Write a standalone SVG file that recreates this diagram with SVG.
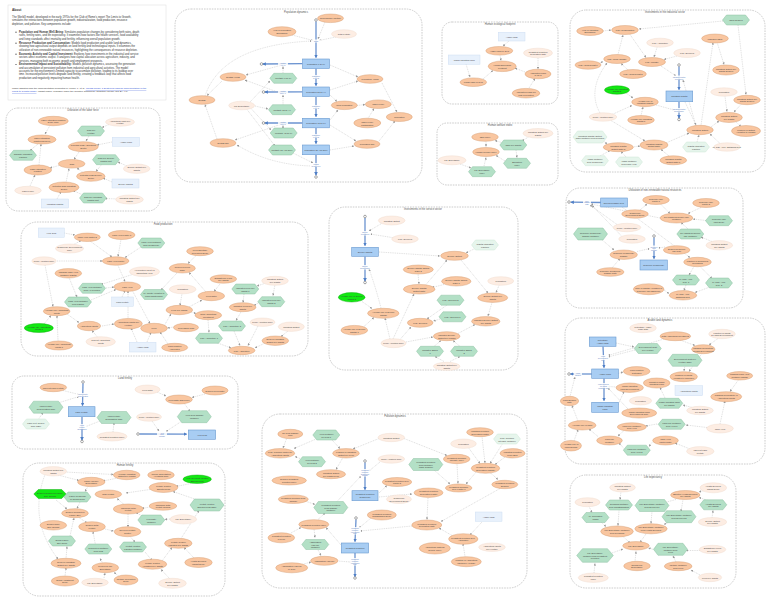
<svg xmlns="http://www.w3.org/2000/svg" width="770" height="600" viewBox="0 0 770 600">
<defs>
<style>
text{font-family:"Liberation Sans",Arial,sans-serif;font-size:2.2px;fill:#3d3d3d;text-anchor:middle;dominant-baseline:central}
.pn{fill:none;stroke:#c6c6c6;stroke-width:0.9;stroke-dasharray:1.6 1}
.pt{font-size:2.6px;fill:#555}
.a{fill:#f9c6a0;stroke:#d49d73;stroke-width:0.45}
.c{fill:#fdede3;stroke:#f0dccd;stroke-width:0.45}
.s{fill:#a8cdf3;stroke:#6a9ad0;stroke-width:0.6}
.r{fill:#e8f1fc;stroke:#cbdcf1;stroke-width:0.45}
.h{fill:#b3e0c6;stroke:#86bb9d;stroke-width:0.45}
.hl{fill:#e6f5ec;stroke:#cbe6d5;stroke-width:0.45}
.g{fill:#12e812;stroke:#0aa80a;stroke-width:0.45}
.l{fill:none;stroke:#bcbcbc;stroke-width:0.5;stroke-dasharray:1 0.8;marker-end:url(#ar)}
.f{fill:none;stroke:#6b93d0;stroke-width:1.3;marker-end:url(#af)}
.v{font-size:1.7px;fill:#5a7dbd}
.vb{fill:#fff;opacity:0.85}
.cl{fill:#fff;stroke:#444;stroke-width:0.45}
.ab{font-size:2.7px;text-anchor:start;fill:#333;dominant-baseline:auto}
.ab tspan.b{font-weight:bold}
</style>
<marker id="ar" viewBox="0 0 10 10" refX="9" refY="5" markerWidth="2.4" markerHeight="2.4" markerUnits="userSpaceOnUse" orient="auto"><path d="M0,0L10,5L0,10z" fill="#9a9a9a"/></marker>
<marker id="af" viewBox="0 0 10 10" refX="8" refY="5" markerWidth="3.6" markerHeight="3.6" markerUnits="userSpaceOnUse" orient="auto"><path d="M0,0L10,5L0,10z" fill="#4f7fc6"/></marker>
<polygon id="hx" points="-13.5,0 -9.5,-5 9.5,-5 13.5,0 9.5,5 -9.5,5"/>
<polygon id="hw" points="-17,0 -12.5,-6 12.5,-6 17,0 12.5,6 -12.5,6"/>
</defs>
<rect width="770" height="600" fill="#fff"/>

<!-- About -->
<g id="about">
<rect x="8" y="5" width="158" height="95" fill="#fff" stroke="#dcdcdc" stroke-width="0.5"/>
<text class="ab" x="12" y="11" style="font-size:3.2px;font-weight:bold">About</text>
<text class="ab" x="12" y="18">The World3 model, developed in the early 1970s for the Club of Rome's report The Limits to Growth,</text>
<text class="ab" x="12" y="21.3">simulates the interactions between population growth, industrialization, food production, resource</text>
<text class="ab" x="12" y="24.6">depletion, and pollution. Key components include:</text>
<circle cx="16" cy="32.2" r="0.6" fill="#333"/>
<text class="ab" x="19" y="33"><tspan class="b">Population and Human Well-Being:</tspan> Simulates population changes by considering birth rates, death</text>
<text class="ab" x="19" y="36.3">rates, fertility rates, and life expectancy. It examines how factors like health services, food availability</text>
<text class="ab" x="19" y="39.6">and living standards affect mortality and fertility, influencing overall population growth.</text>
<circle cx="16" cy="43.2" r="0.6" fill="#333"/>
<text class="ab" x="19" y="44"><tspan class="b">Resource Production and Consumption:</tspan> Models food production and arable land dynamics,</text>
<text class="ab" x="19" y="47.3">showing how agricultural output depends on land fertility and technological inputs. It examines the</text>
<text class="ab" x="19" y="50.6">utilization of non-renewable natural resources, highlighting the consequences of resource depletion.</text>
<circle cx="16" cy="54.2" r="0.6" fill="#333"/>
<text class="ab" x="19" y="55"><tspan class="b">Economic Activity and Capital Investment:</tspan> Explores how investments in the industrial and service</text>
<text class="ab" x="19" y="58.3">sectors affect economic output. It analyzes how capital allocation across agriculture, industry, and</text>
<text class="ab" x="19" y="61.6">services, managing both economic growth and employment prospects.</text>
<circle cx="16" cy="64.5" r="0.6" fill="#333"/>
<text class="ab" x="19" y="65.3"><tspan class="b">Environmental Impact and Sustainability:</tspan> Models pollution dynamics, assessing the generation</text>
<text class="ab" x="19" y="68.6">and accumulation of persistent pollution from industrial and agricultural activities. The model</text>
<text class="ab" x="19" y="71.9">accounts for the environment's limited capacity to assimilate pollution, leading to its buildup over</text>
<text class="ab" x="19" y="75.2">time. Increased pollution levels degrade land fertility, creating a feedback loop that affects food</text>
<text class="ab" x="19" y="78.5">production and negatively impacting human health.</text>
<text class="ab" x="12" y="89" style="font-size:2.4px">Model adapted from the implementation presented in: Lopez, L. et al. <tspan fill="#2a4fd6" text-decoration="underline">World3 model: a System Dynamics implementation of the</tspan></text>
<text class="ab" x="12" y="92.3" style="font-size:2.4px"><tspan fill="#2a4fd6" text-decoration="underline">Limits to Growth model</tspan>. Insight Maker, available under the Creative Commons Attribution license (CC BY 4.0).</text>
</g>

<!-- Panels -->
<g id="panels">
<rect class="pn" x="175" y="9" width="247" height="173" rx="16"/><text class="pt" x="296" y="12.5">Population dynamics</text>
<rect class="pn" x="442" y="22" width="116" height="82" rx="10"/><text class="pt" x="500" y="24.5">Human ecological footprint</text>
<rect class="pn" x="437" y="123" width="121" height="62" rx="10"/><text class="pt" x="500" y="125.5">Human welfare index</text>
<rect class="pn" x="570" y="10" width="195" height="162" rx="16"/><text class="pt" x="665" y="12.5">Investments in the industrial sector</text>
<rect class="pn" x="6" y="108" width="154" height="103" rx="12"/><text class="pt" x="83" y="110.5">Utilization of the labor force</text>
<rect class="pn" x="21" y="222" width="287" height="134" rx="16"/><text class="pt" x="163" y="224.5">Food production</text>
<rect class="pn" x="329" y="207" width="189" height="163" rx="16"/><text class="pt" x="423" y="209.5">Investments in the service sector</text>
<rect class="pn" x="566" y="188" width="177" height="120" rx="14"/><text class="pt" x="655" y="190.5">Utilization of non-renewable natural resources</text>
<rect class="pn" x="565" y="318" width="200" height="146" rx="16"/><text class="pt" x="660" y="320.5">Arable land dynamics</text>
<rect class="pn" x="12" y="376" width="226" height="73" rx="12"/><text class="pt" x="125" y="378.5">Land fertility</text>
<rect class="pn" x="23" y="463" width="202" height="133" rx="16"/><text class="pt" x="125" y="465.5">Human fertility</text>
<rect class="pn" x="262" y="414" width="265" height="174" rx="18"/><text class="pt" x="395" y="416.5">Pollution dynamics</text>
<rect class="pn" x="570" y="475" width="166" height="113" rx="16"/><text class="pt" x="653" y="477.5">Life expectancy</text>
</g>

<!-- Connectors -->
<g id="connectors">
<!-- population -->
<line class="f" x1="316" y1="21.5" x2="316" y2="57.5"/>
<line class="f" x1="316" y1="68.5" x2="316" y2="85.5"/>
<line class="f" x1="316" y1="97" x2="316" y2="116.5"/>
<line class="f" x1="316" y1="128" x2="316" y2="143.5"/>
<line class="f" x1="316" y1="155" x2="316" y2="175"/>
<line class="f" x1="302.5" y1="63.7" x2="263" y2="64"/>
<line class="f" x1="302.5" y1="91.8" x2="265" y2="92"/>
<line class="f" x1="302.5" y1="123" x2="265" y2="123"/>
<line class="l" x1="325" y1="22" x2="318" y2="39"/>
<line class="l" x1="336" y1="37" x2="319" y2="40.5"/>
<line class="l" x1="292" y1="35" x2="313" y2="40.5"/>
<path class="l" d="M205,96 Q222,45 312,41"/>
<line class="l" x1="330" y1="65" x2="358" y2="77"/>
<line class="l" x1="330" y1="90" x2="358" y2="81"/>
<line class="l" x1="330" y1="125" x2="356" y2="141"/>
<line class="l" x1="330" y1="150" x2="354" y2="146"/>
<line class="l" x1="382" y1="83" x2="397" y2="112"/>
<line class="l" x1="379" y1="141" x2="395" y2="121"/>
<line class="l" x1="368" y1="118.5" x2="374" y2="108.5"/>
<line class="l" x1="357" y1="105.5" x2="365" y2="104.5"/>
<line class="l" x1="330" y1="95" x2="337" y2="101.5"/>
<line class="l" x1="330" y1="120" x2="338" y2="110"/>
<line class="l" x1="283" y1="73" x2="283" y2="66.5"/>
<line class="l" x1="283" y1="104.5" x2="283" y2="95"/>
<line class="l" x1="283" y1="128" x2="283" y2="125.5"/>
<line class="l" x1="293" y1="153" x2="313" y2="163"/>
<line class="l" x1="250" y1="102" x2="270" y2="81"/>
<line class="l" x1="255" y1="106" x2="268" y2="109"/>
<line class="l" x1="251" y1="108.5" x2="271" y2="130"/>
<line class="l" x1="247" y1="109.5" x2="275" y2="146"/>
<line class="l" x1="280" y1="65.5" x2="246" y2="75"/>
<line class="l" x1="280" y1="93" x2="245" y2="80"/>
<line class="l" x1="280" y1="124.5" x2="235" y2="140"/>
<path class="l" d="M312,166 Q270,165 237,145"/>
<line class="l" x1="222" y1="81" x2="207" y2="95.5"/>
<line class="l" x1="217" y1="139" x2="205" y2="104.5"/>
<!-- ecological footprint -->
<line class="l" x1="509" y1="41" x2="503" y2="46"/>
<line class="l" x1="500" y1="55.5" x2="501" y2="60.5"/>
<line class="l" x1="466" y1="64" x2="470" y2="77"/>
<line class="l" x1="483" y1="79" x2="493" y2="70.5"/>
<line class="l" x1="538" y1="58" x2="538" y2="69"/>
<line class="l" x1="525" y1="72" x2="515" y2="68"/>
<line class="l" x1="529" y1="88" x2="535" y2="78.5"/>
<!-- welfare -->
<line class="l" x1="530" y1="136" x2="522" y2="141"/>
<line class="l" x1="503" y1="143" x2="495" y2="140.5"/>
<line class="l" x1="486" y1="141.5" x2="486" y2="146.5"/>
<line class="l" x1="516" y1="150" x2="517" y2="157.5"/>
<line class="l" x1="505" y1="161" x2="496" y2="155.5"/>
<line class="l" x1="460" y1="164" x2="471" y2="168"/>
<line class="l" x1="484" y1="166" x2="486" y2="157.5"/>
<!-- industrial -->
<line class="f" x1="679" y1="66.5" x2="679" y2="89.5"/>
<line class="f" x1="679" y1="102" x2="679" y2="118"/>
<line class="l" x1="603" y1="31" x2="611" y2="30"/>
<line class="l" x1="723" y1="21" x2="639" y2="29"/>
<line class="l" x1="717" y1="42" x2="724" y2="64.5"/>
<line class="l" x1="738" y1="25" x2="746" y2="94.5"/>
<line class="l" x1="618" y1="54.5" x2="623" y2="35"/>
<line class="l" x1="600" y1="63" x2="603" y2="61.5"/>
<line class="l" x1="628" y1="70" x2="621" y2="63.5"/>
<line class="l" x1="630" y1="34.5" x2="646" y2="57.5"/>
<line class="l" x1="657" y1="47.5" x2="654" y2="57"/>
<line class="l" x1="677" y1="56" x2="664" y2="59.5"/>
<line class="l" x1="661" y1="66" x2="676" y2="76"/>
<line class="l" x1="701" y1="125.5" x2="713" y2="42.5"/>
<line class="l" x1="696" y1="126" x2="683" y2="80"/>
<line class="l" x1="711" y1="127" x2="719" y2="121"/>
<line class="l" x1="725" y1="96.5" x2="727" y2="111.5"/>
<line class="l" x1="741" y1="104.5" x2="734" y2="112"/>
<line class="l" x1="685" y1="102" x2="696" y2="125"/>
<line class="l" x1="656" y1="105" x2="674" y2="110"/>
<line class="l" x1="641" y1="115.5" x2="643" y2="107"/>
<line class="l" x1="626" y1="93" x2="633" y2="98"/>
<line class="l" x1="612" y1="114.5" x2="632" y2="105.5"/>
<path class="l" d="M600,113 Q587,90 607,63"/>
<line class="l" x1="611" y1="120.5" x2="645" y2="141"/>
<line class="l" x1="666" y1="143" x2="689" y2="133"/>
<line class="l" x1="632" y1="147" x2="640" y2="146"/>
<line class="l" x1="603" y1="140.5" x2="607" y2="144"/>
<line class="l" x1="600" y1="156" x2="610" y2="150.5"/>
<line class="l" x1="626" y1="157" x2="621" y2="151.5"/>
<line class="l" x1="669" y1="156" x2="661" y2="149.5"/>
<line class="l" x1="697" y1="142" x2="699" y2="135"/>
<line class="l" x1="720" y1="143.5" x2="710" y2="134"/>
<line class="l" x1="735" y1="121" x2="741" y2="126.5"/>
<!-- labor -->
<line class="l" x1="50" y1="125.5" x2="45" y2="134"/>
<line class="l" x1="38" y1="144" x2="30" y2="150.5"/>
<line class="l" x1="109" y1="124.5" x2="102" y2="127.5"/>
<line class="l" x1="89" y1="136" x2="86" y2="141"/>
<line class="l" x1="112" y1="142" x2="97" y2="145"/>
<line class="l" x1="80" y1="150.5" x2="74" y2="159.5"/>
<line class="l" x1="102" y1="164" x2="96" y2="171.5"/>
<line class="l" x1="127" y1="166" x2="118" y2="162"/>
<line class="l" x1="112" y1="182" x2="103" y2="178"/>
<line class="l" x1="83" y1="172.5" x2="77" y2="168"/>
<line class="l" x1="66" y1="182.5" x2="69" y2="168.5"/>
<line class="l" x1="83" y1="195" x2="73" y2="190.5"/>
<line class="l" x1="119" y1="199" x2="105" y2="198.5"/>
<line class="l" x1="57" y1="199" x2="61" y2="191.5"/>
<line class="l" x1="59" y1="165.5" x2="50" y2="168"/>
<line class="l" x1="30" y1="186" x2="35" y2="175"/>
<line class="l" x1="39" y1="165" x2="41" y2="144"/>
<!-- food -->
<line class="l" x1="64" y1="233" x2="75" y2="235"/>
<line class="l" x1="90" y1="241" x2="112" y2="257"/>
<line class="l" x1="121" y1="239.5" x2="118" y2="256.5"/>
<line class="l" x1="141" y1="247" x2="125" y2="257.5"/>
<line class="l" x1="74" y1="244.5" x2="81" y2="240.5"/>
<line class="l" x1="57" y1="261" x2="102.5" y2="261"/>
<line class="l" x1="45" y1="265" x2="53" y2="306.5"/>
<line class="l" x1="118" y1="265.5" x2="125" y2="281.5"/>
<line class="l" x1="134" y1="274" x2="101" y2="284.5"/>
<line class="l" x1="106" y1="288" x2="114" y2="287"/>
<line class="l" x1="122" y1="297" x2="125" y2="290.5"/>
<line class="l" x1="91" y1="300" x2="116" y2="289.5"/>
<line class="l" x1="132" y1="290" x2="150" y2="323.5"/>
<line class="l" x1="164" y1="326" x2="171" y2="314"/>
<line class="l" x1="182" y1="293.5" x2="180" y2="305.5"/>
<line class="l" x1="173.5" y1="327" x2="167.5" y2="328"/>
<line class="l" x1="168" y1="344" x2="160" y2="332"/>
<line class="l" x1="147" y1="342" x2="151" y2="332.5"/>
<line class="l" x1="189" y1="307" x2="202" y2="300"/>
<line class="l" x1="220" y1="284" x2="214" y2="291.5"/>
<line class="l" x1="206" y1="292" x2="189" y2="272.5"/>
<line class="l" x1="196" y1="255.5" x2="188" y2="263.5"/>
<line class="l" x1="177" y1="273" x2="161" y2="290"/>
<line class="l" x1="244" y1="294" x2="243" y2="302.5"/>
<line class="l" x1="258" y1="303" x2="254" y2="305.5"/>
<line class="l" x1="266" y1="283" x2="257" y2="286"/>
<line class="l" x1="275" y1="284.5" x2="273" y2="295.5"/>
<line class="l" x1="241" y1="312" x2="236" y2="320.5"/>
<line class="l" x1="215" y1="342" x2="231" y2="348"/>
<line class="l" x1="234" y1="331" x2="240" y2="345.5"/>
<line class="l" x1="258" y1="326" x2="248" y2="345.5"/>
<line class="l" x1="288" y1="331" x2="281" y2="336.5"/>
<line class="l" x1="265" y1="343" x2="255" y2="348"/>
<line class="l" x1="191" y1="312" x2="196" y2="313.5"/>
<line class="l" x1="208" y1="320" x2="209" y2="332.5"/>
<line class="l" x1="128" y1="318.5" x2="128" y2="290.5"/>
<line class="l" x1="102" y1="326" x2="114" y2="324"/>
<line class="l" x1="67" y1="314" x2="79" y2="322.5"/>
<line class="l" x1="44" y1="324" x2="51" y2="315.5"/>
<line class="l" x1="58" y1="340.5" x2="57" y2="315.5"/>
<line class="l" x1="97" y1="336.5" x2="92" y2="330.5"/>
<line class="l" x1="137" y1="342" x2="131" y2="328"/>
<line class="l" x1="69" y1="277.5" x2="77" y2="297"/>
<!-- service -->
<line class="f" x1="365" y1="218" x2="365" y2="245.5"/>
<line class="f" x1="365" y1="256.5" x2="365" y2="281"/>
<line class="l" x1="384" y1="222" x2="369" y2="231"/>
<line class="l" x1="395" y1="238" x2="370" y2="234"/>
<line class="l" x1="379" y1="252" x2="440" y2="256"/>
<line class="l" x1="476" y1="248" x2="466" y2="253"/>
<line class="l" x1="426" y1="284.5" x2="447" y2="260"/>
<line class="l" x1="418" y1="273.5" x2="419" y2="284"/>
<line class="l" x1="444" y1="284.5" x2="432" y2="287.5"/>
<line class="l" x1="461" y1="260" x2="488" y2="293"/>
<line class="l" x1="499" y1="285.5" x2="496" y2="292.5"/>
<line class="l" x1="492" y1="302.5" x2="488" y2="316"/>
<line class="l" x1="447" y1="305" x2="427" y2="319"/>
<line class="l" x1="440" y1="319" x2="433.5" y2="321"/>
<line class="l" x1="434" y1="346.5" x2="441" y2="340.5"/>
<line class="l" x1="460" y1="346.5" x2="453" y2="340.5"/>
<line class="l" x1="458" y1="333.5" x2="475" y2="324.5"/>
<line class="l" x1="400" y1="339.5" x2="411" y2="327"/>
<line class="l" x1="390" y1="339" x2="385" y2="318"/>
<line class="l" x1="406" y1="342" x2="433" y2="337"/>
<line class="l" x1="444" y1="361.5" x2="435" y2="356.5"/>
<line class="l" x1="450" y1="361.5" x2="460" y2="356.5"/>
<path class="l" d="M381,308 Q375,285 369,269"/>
<line class="l" x1="362" y1="301.5" x2="372" y2="308.5"/>
<line class="l" x1="364" y1="326.5" x2="374" y2="317.5"/>
<line class="l" x1="393" y1="339" x2="414" y2="294"/>
<!-- resources -->
<line class="f" x1="601" y1="202.5" x2="571" y2="202.2"/>
<line class="f" x1="654" y1="237.5" x2="654" y2="258.5"/>
<line class="l" x1="661" y1="204.5" x2="670" y2="213.5"/>
<line class="l" x1="701" y1="207.5" x2="688" y2="213.5"/>
<line class="l" x1="660" y1="218" x2="591" y2="204"/>
<line class="l" x1="640" y1="210" x2="647" y2="204"/>
<line class="l" x1="706" y1="220.5" x2="693" y2="219"/>
<line class="l" x1="617" y1="224.5" x2="590" y2="205"/>
<line class="l" x1="601" y1="239" x2="614" y2="250"/>
<line class="l" x1="622" y1="236.5" x2="592" y2="205.5"/>
<line class="l" x1="622" y1="207" x2="690" y2="257.5"/>
<line class="l" x1="712" y1="241.5" x2="701" y2="237"/>
<line class="l" x1="688" y1="229" x2="681" y2="222.5"/>
<line class="l" x1="637" y1="251.5" x2="650" y2="248.5"/>
<line class="l" x1="665" y1="247" x2="658" y2="248"/>
<line class="l" x1="700" y1="266.5" x2="712" y2="278.5"/>
<line class="l" x1="694" y1="266.5" x2="689" y2="275"/>
<line class="l" x1="686" y1="285" x2="684" y2="290.5"/>
<line class="l" x1="710" y1="287" x2="695" y2="292.5"/>
<line class="l" x1="664" y1="290" x2="669" y2="293.5"/>
<line class="l" x1="612" y1="268" x2="620" y2="258.5"/>
<!-- arable land -->
<line class="f" x1="603" y1="346.5" x2="604" y2="367.5"/>
<line class="f" x1="604" y1="378.5" x2="604" y2="400.5"/>
<line class="f" x1="592" y1="374" x2="570.5" y2="374"/>
<line class="l" x1="635" y1="350" x2="608" y2="357"/>
<line class="l" x1="664" y1="339" x2="608" y2="355.5"/>
<line class="l" x1="718" y1="338.5" x2="709" y2="345"/>
<line class="l" x1="702" y1="353.5" x2="689" y2="371.5"/>
<line class="l" x1="685" y1="365" x2="684" y2="371"/>
<line class="l" x1="616" y1="343" x2="634" y2="347"/>
<line class="l" x1="618" y1="373.5" x2="623" y2="372"/>
<line class="l" x1="628" y1="409" x2="608" y2="388"/>
<line class="l" x1="617" y1="387" x2="608" y2="386.5"/>
<line class="l" x1="665" y1="398" x2="660" y2="387.5"/>
<line class="l" x1="618" y1="405" x2="624" y2="391.5"/>
<line class="l" x1="694" y1="408" x2="683" y2="405"/>
<line class="l" x1="574" y1="441" x2="578" y2="429.5"/>
<line class="l" x1="598" y1="436.5" x2="589" y2="429"/>
<line class="l" x1="624" y1="448.5" x2="619" y2="443"/>
<line class="l" x1="624" y1="430.5" x2="618" y2="436"/>
<line class="l" x1="657" y1="424" x2="645.5" y2="426"/>
<line class="l" x1="707" y1="427.5" x2="686" y2="425"/>
<line class="l" x1="652" y1="442.5" x2="649" y2="446.5"/>
<line class="l" x1="690" y1="449" x2="675" y2="443"/>
<line class="l" x1="738" y1="380.5" x2="730" y2="391.5"/>
<line class="l" x1="720" y1="424" x2="725" y2="401"/>
<line class="l" x1="578" y1="421" x2="572" y2="405.5"/>
<line class="l" x1="570" y1="396.5" x2="575" y2="377"/>
<line class="l" x1="680" y1="340" x2="695" y2="345.5"/>
<!-- land fertility -->
<line class="f" x1="83" y1="383.5" x2="82.5" y2="405.5"/>
<line class="f" x1="82" y1="417" x2="82" y2="440"/>
<line class="f" x1="139.5" y1="434" x2="186.5" y2="434.2"/>
<line class="l" x1="63" y1="390.5" x2="79" y2="394.5"/>
<line class="l" x1="58" y1="403" x2="79" y2="396.5"/>
<line class="l" x1="38" y1="420" x2="43" y2="412.5"/>
<line class="l" x1="100" y1="421" x2="86" y2="426.5"/>
<line class="l" x1="113" y1="432" x2="114" y2="422.5"/>
<line class="l" x1="157" y1="392" x2="166" y2="396"/>
<line class="l" x1="205" y1="394" x2="192" y2="397.5"/>
<line class="l" x1="184" y1="403" x2="190" y2="411.5"/>
<line class="l" x1="152" y1="421" x2="159" y2="431"/>
<line class="l" x1="182" y1="421" x2="166" y2="431.5"/>
<!-- human fertility -->
<line class="l" x1="65" y1="472" x2="113.5" y2="474.5"/>
<line class="l" x1="58" y1="475" x2="79" y2="480.5"/>
<line class="l" x1="118" y1="478" x2="103" y2="481"/>
<line class="l" x1="88" y1="486.5" x2="85" y2="491.5"/>
<line class="l" x1="191" y1="483.5" x2="176" y2="486.5"/>
<line class="l" x1="56" y1="500" x2="67" y2="509"/>
<line class="l" x1="80" y1="502" x2="77" y2="508.5"/>
<line class="l" x1="124" y1="504.5" x2="117" y2="498.5"/>
<line class="l" x1="150" y1="489.5" x2="126" y2="493"/>
<line class="l" x1="150" y1="507" x2="142" y2="508.5"/>
<line class="l" x1="199" y1="500.5" x2="173" y2="491.5"/>
<line class="l" x1="143" y1="516.5" x2="136" y2="512.5"/>
<line class="l" x1="170" y1="519" x2="165" y2="519.5"/>
<line class="l" x1="79" y1="517.5" x2="87" y2="523"/>
<line class="l" x1="105" y1="529" x2="113.5" y2="531"/>
<line class="l" x1="128" y1="514" x2="128" y2="527"/>
<line class="l" x1="130" y1="536.5" x2="135" y2="542"/>
<line class="l" x1="145" y1="552" x2="152" y2="560.5"/>
<line class="l" x1="181" y1="538.5" x2="199" y2="510.5"/>
<line class="l" x1="194" y1="558" x2="184" y2="547.5"/>
<line class="l" x1="162" y1="561" x2="172" y2="547.5"/>
<line class="l" x1="170" y1="579" x2="161" y2="569.5"/>
<line class="l" x1="70" y1="536" x2="74" y2="518"/>
<line class="l" x1="66" y1="558.5" x2="67" y2="546.5"/>
<line class="l" x1="65" y1="576.5" x2="66" y2="567.5"/>
<line class="l" x1="96" y1="548" x2="93" y2="531.5"/>
<line class="l" x1="103" y1="563.5" x2="100" y2="558.5"/>
<line class="l" x1="120" y1="577" x2="114" y2="572.5"/>
<line class="l" x1="104" y1="578" x2="105" y2="573"/>
<path class="l" d="M45,474.5 Q28,520 58,559"/>
<!-- pollution -->
<line class="f" x1="365" y1="462.5" x2="365" y2="489.5"/>
<line class="f" x1="356" y1="519.5" x2="355" y2="541.5"/>
<line class="f" x1="355" y1="553" x2="355" y2="576.5"/>
<line class="l" x1="287" y1="437.5" x2="283" y2="448"/>
<line class="l" x1="315" y1="439.5" x2="294" y2="448.5"/>
<line class="l" x1="300" y1="458.5" x2="295" y2="456.5"/>
<line class="l" x1="332" y1="440" x2="340" y2="448.5"/>
<line class="l" x1="379" y1="438.5" x2="353" y2="449"/>
<line class="l" x1="404" y1="438.5" x2="447" y2="455.5"/>
<line class="l" x1="343" y1="457.5" x2="336" y2="469.5"/>
<line class="l" x1="305" y1="501" x2="315" y2="504.5"/>
<line class="l" x1="337" y1="501.5" x2="361" y2="476"/>
<line class="l" x1="380" y1="462" x2="369" y2="471"/>
<line class="l" x1="379" y1="493" x2="387" y2="485.5"/>
<line class="l" x1="379" y1="497" x2="412" y2="494"/>
<line class="l" x1="428" y1="498" x2="427" y2="519.5"/>
<line class="l" x1="434" y1="470" x2="450" y2="484"/>
<line class="l" x1="457" y1="463.5" x2="458" y2="483.5"/>
<line class="l" x1="477" y1="471" x2="466" y2="484"/>
<line class="l" x1="468" y1="447" x2="480" y2="463.5"/>
<line class="l" x1="482" y1="436.5" x2="485" y2="463"/>
<line class="l" x1="502" y1="444.5" x2="490" y2="463.5"/>
<line class="l" x1="505" y1="457" x2="495" y2="464.5"/>
<line class="l" x1="490" y1="472.5" x2="498" y2="479.5"/>
<line class="l" x1="412" y1="526" x2="360" y2="531"/>
<line class="l" x1="500" y1="488.5" x2="441" y2="521.5"/>
<line class="l" x1="452" y1="535.5" x2="439" y2="528"/>
<line class="l" x1="482" y1="522" x2="470" y2="535"/>
<line class="l" x1="465" y1="556.5" x2="463" y2="543.5"/>
<line class="l" x1="371" y1="518" x2="359" y2="528"/>
<line class="l" x1="341" y1="545" x2="326" y2="527.5"/>
<line class="l" x1="314" y1="528.5" x2="315" y2="537.5"/>
<line class="l" x1="291" y1="533" x2="301" y2="527.5"/>
<line class="l" x1="318" y1="550" x2="321" y2="555.5"/>
<line class="l" x1="302" y1="564.5" x2="311" y2="562"/>
<line class="l" x1="337" y1="561" x2="351" y2="562"/>
<line class="l" x1="318" y1="519.5" x2="325" y2="513"/>
<!-- life expectancy -->
<line class="l" x1="621" y1="491.5" x2="620" y2="499.5"/>
<line class="l" x1="589" y1="506.5" x2="592" y2="512.5"/>
<line class="l" x1="619" y1="510.5" x2="618" y2="525.5"/>
<line class="l" x1="601" y1="522" x2="606" y2="526.5"/>
<line class="l" x1="708" y1="500.5" x2="699" y2="497.5"/>
<line class="l" x1="706" y1="490" x2="699" y2="492"/>
<line class="l" x1="712" y1="518" x2="713" y2="510.5"/>
<line class="l" x1="676" y1="499.5" x2="663" y2="503"/>
<line class="l" x1="683" y1="499.5" x2="681" y2="511.5"/>
<line class="l" x1="652" y1="511.5" x2="651" y2="523.5"/>
<line class="l" x1="670" y1="521.5" x2="664" y2="524.5"/>
<line class="l" x1="622" y1="535.5" x2="630" y2="543"/>
<line class="l" x1="646" y1="534" x2="640" y2="542.5"/>
<line class="l" x1="655" y1="550" x2="648.5" y2="548"/>
<line class="l" x1="700" y1="550.5" x2="686" y2="550.5"/>
<line class="l" x1="676" y1="562" x2="673" y2="556"/>
<line class="l" x1="700" y1="575" x2="691" y2="570"/>
<line class="l" x1="612" y1="553" x2="623" y2="549"/>
<line class="l" x1="594" y1="573" x2="595" y2="563.5"/>
<line class="l" x1="635" y1="561.5" x2="636" y2="551.5"/>
</g>

<!-- clouds and valves -->
<g id="flow-ends">
<circle class="cl" cx="316" cy="20" r="1.3"/><circle class="cl" cx="261.5" cy="64" r="1.3"/><circle class="cl" cx="263.5" cy="92" r="1.3"/><circle class="cl" cx="263.5" cy="123" r="1.3"/><circle class="cl" cx="316" cy="177" r="1.3"/>
<circle class="cl" cx="679" cy="65" r="1.3"/><circle class="cl" cx="679" cy="119.5" r="1.3"/>
<circle class="cl" cx="365" cy="216.5" r="1.3"/><circle class="cl" cx="365" cy="282.5" r="1.3"/>
<circle class="cl" cx="569" cy="202" r="1.3"/><circle class="cl" cx="654" cy="236" r="1.3"/>
<circle class="cl" cx="569" cy="374" r="1.3"/>
<circle class="cl" cx="83" cy="382" r="1.3"/><circle class="cl" cx="82" cy="441.5" r="1.3"/><circle class="cl" cx="138" cy="434" r="1.3"/>
<circle class="cl" cx="365" cy="461" r="1.3"/><circle class="cl" cx="356" cy="518" r="1.3"/><circle class="cl" cx="355" cy="578" r="1.3"/>
</g>
<g id="valves">
<rect class="vb" x="311" y="39.5" width="10" height="3"/><text class="v" x="316" y="41">births</text>
<rect class="vb" x="309" y="75" width="14" height="4"/><text class="v" x="316" y="76.2">maturation</text><text class="v" x="316" y="78">14 to 15</text>
<rect class="vb" x="309" y="105" width="14" height="4"/><text class="v" x="316" y="106.2">maturation</text><text class="v" x="316" y="108">44 to 45</text>
<rect class="vb" x="309" y="134" width="14" height="4"/><text class="v" x="316" y="135.2">maturation</text><text class="v" x="316" y="137">64 to 65</text>
<rect class="vb" x="278" y="61.8" width="10" height="4"/><text class="v" x="283" y="63">deaths</text><text class="v" x="283" y="64.8">0 to 14</text>
<rect class="vb" x="278" y="90" width="10" height="4"/><text class="v" x="283" y="91.2">deaths</text><text class="v" x="283" y="93">15 to 44</text>
<rect class="vb" x="278" y="121" width="10" height="4"/><text class="v" x="283" y="122.2">deaths</text><text class="v" x="283" y="124">45 to 64</text>
<rect class="vb" x="310" y="163" width="12" height="4"/><text class="v" x="316" y="164.2">deaths</text><text class="v" x="316" y="166">65 and over</text>
<rect class="vb" x="672" y="75.5" width="14" height="4.5"/><text class="v" x="679" y="76.7">Industrial Capital</text><text class="v" x="679" y="78.7">Investment</text>
<rect class="vb" x="672" y="108" width="14" height="4.5"/><text class="v" x="679" y="109.2">Industrial Capital</text><text class="v" x="679" y="111.2">Depreciation</text>
<rect class="vb" x="359" y="231" width="12" height="4.5"/><text class="v" x="365" y="232.2">Service</text><text class="v" x="365" y="234.2">Investment</text>
<rect class="vb" x="359" y="265" width="12" height="4.5"/><text class="v" x="365" y="266.2">Service</text><text class="v" x="365" y="268.2">Depreciation</text>
<rect class="vb" x="583" y="199.5" width="8" height="5.5"/><text class="v" x="587" y="200.5">Res.</text><text class="v" x="587" y="202.3">Usage</text><text class="v" x="587" y="204.1">Rate</text>
<rect class="vb" x="649" y="245.5" width="10" height="5.5"/><text class="v" x="654" y="246.5">Resource</text><text class="v" x="654" y="248.3">Tech</text><text class="v" x="654" y="250.1">Change</text>
<rect class="vb" x="597" y="355" width="12" height="5.5"/><text class="v" x="603" y="356">Land</text><text class="v" x="603" y="357.8">Development</text><text class="v" x="603" y="359.6">Rate</text>
<rect class="vb" x="574" y="372" width="8" height="4"/><text class="v" x="578" y="373.1">Land</text><text class="v" x="578" y="374.9">Erosion</text>
<rect class="vb" x="597" y="383" width="13" height="5.5"/><text class="v" x="603.5" y="384">Land Removal</text><text class="v" x="603.5" y="385.8">for Urban</text><text class="v" x="603.5" y="387.6">Industrial Use</text>
<rect class="vb" x="76" y="393" width="14" height="4"/><text class="v" x="83" y="394.1">Land Fertility</text><text class="v" x="83" y="395.9">Regeneration</text>
<rect class="vb" x="76" y="424" width="12" height="5.5"/><text class="v" x="82" y="425">Land</text><text class="v" x="82" y="426.8">Fertility</text><text class="v" x="82" y="428.6">Degradation</text>
<rect class="vb" x="157" y="431.5" width="10" height="5.5"/><text class="v" x="162" y="432.5">Yield</text><text class="v" x="162" y="434.3">Tech</text><text class="v" x="162" y="436.1">Change</text>
<rect class="vb" x="359" y="469" width="12" height="7.5"/><text class="v" x="365" y="470">Persistent</text><text class="v" x="365" y="471.8">Pollution</text><text class="v" x="365" y="473.6">Technology</text><text class="v" x="365" y="475.4">Change</text>
<rect class="vb" x="349" y="527" width="12" height="7.5"/><text class="v" x="355" y="528">Persistent</text><text class="v" x="355" y="529.8">Pollution</text><text class="v" x="355" y="531.6">Appearance</text><text class="v" x="355" y="533.4">Rate</text>
<rect class="vb" x="349" y="558" width="12" height="7.5"/><text class="v" x="355" y="559">Persistent</text><text class="v" x="355" y="560.8">Pollution</text><text class="v" x="355" y="562.6">Assimilation</text><text class="v" x="355" y="564.4">Rate</text>
</g>

<!-- ===== Population dynamics nodes ===== -->
<g id="pop-0-14"><rect class="s" x="302.5" y="59" width="27" height="9.5"/><text x="316" y="63.7">Population 0 To 14</text></g>
<g id="pop-15-44"><rect class="s" x="302.5" y="87" width="27" height="9.5"/><text x="316" y="91.8">Population 15 To 44</text></g>
<g id="pop-45-64"><rect class="s" x="302.5" y="118.3" width="27" height="9.5"/><text x="316" y="123">Population 45 To 64</text></g>
<g id="pop-65"><rect class="s" x="302.5" y="145" width="27" height="9.7"/><text x="316" y="149.9">Population 65 And Over</text></g>
<g id="reproductive-lifetime"><ellipse class="a" cx="330.5" cy="18.3" rx="13" ry="4.3"/><text x="330.5" y="18.3">Reproductive Lifetime</text></g>
<g id="total-fertility-p"><ellipse class="c" cx="344" cy="34" rx="12.5" ry="4.3"/><text x="344" y="34">Total Fertility</text></g>
<g id="pop-eq-time"><ellipse class="a" cx="282" cy="31.7" rx="14" ry="5"/><text x="282" y="30.3">Year of Population</text><text x="282" y="33.2">Equilibrium</text></g>
<g id="mort-0-14"><use href="#hx" x="283.3" y="78.3" class="h"/><text x="283.3" y="78.3">Mortality 0 To 14</text></g>
<g id="mort-15-44"><use href="#hx" x="282" y="109.7" class="h"/><text x="282" y="109.7">Mortality 15 To 44</text></g>
<g id="mort-45-64"><use href="#hx" x="283.7" y="133" class="h"/><text x="283.7" y="133">Mortality 45 To 64</text></g>
<g id="mort-65"><use href="#hx" x="282" y="150" class="h"/><text x="282" y="150">Mortality 65 And Over</text></g>
<g id="deaths-young"><ellipse class="a" cx="233" cy="77" rx="13" ry="4.3"/><text x="233" y="77">Deaths Young</text></g>
<g id="deaths-old"><ellipse class="a" cx="223" cy="143" rx="13" ry="4.3"/><text x="223" y="143">Deaths Old</text></g>
<g id="deaths"><ellipse class="a" cx="202" cy="100" rx="13" ry="4.3"/><text x="202" y="100">Deaths</text></g>
<g id="life-exp-p"><ellipse class="c" cx="241.7" cy="105.5" rx="13" ry="4.3"/><text x="241.7" y="105.5">Life Expectancy</text></g>
<g id="pop-young"><ellipse class="a" cx="370" cy="79" rx="13" ry="4.3"/><text x="370" y="79">Population Young</text></g>
<g id="pop-old"><ellipse class="a" cx="367" cy="144" rx="13" ry="4.3"/><text x="367" y="144">Population Old</text></g>
<g id="population"><ellipse class="a" cx="399.3" cy="117" rx="13" ry="4.5"/><text x="399.3" y="117">Population</text></g>
<g id="labor-force-p"><ellipse class="a" cx="378.3" cy="104.2" rx="13" ry="4.3"/><text x="378.3" y="104.2">Labor Force</text></g>
<g id="lfp"><ellipse class="a" cx="367.3" cy="123" rx="13.5" ry="4.8"/><text x="367.3" y="121.7">Labor Force</text><text x="367.3" y="124.5">Participation</text></g>
<g id="work-pop"><ellipse class="a" cx="344.3" cy="105.3" rx="13" ry="4.3"/><text x="344.3" y="105.3">Work Population</text></g>

<!-- ===== Ecological footprint ===== -->
<g id="eco-arable"><rect class="r" x="498.3" y="32.3" width="26.7" height="8.7"/><text x="511.7" y="36.7">Arable Land</text></g>
<g id="eco-arable-gha"><ellipse class="a" cx="499.3" cy="50.8" rx="13.5" ry="4.3"/><text x="499.3" y="50.8">Arable Land in GHa</text></g>
<g id="eco-urban"><rect class="r" x="448.3" y="55" width="31.7" height="9.3"/><text x="464.2" y="59.6">Urban Industrial Land</text></g>
<g id="hef"><ellipse class="a" cx="502.2" cy="66.3" rx="14" ry="5.3"/><text x="502.2" y="64.9">Human Ecological</text><text x="502.2" y="67.8">Footprint</text></g>
<g id="eco-ppgr"><ellipse class="c" cx="538" cy="53" rx="14.5" ry="4.8"/><text x="538" y="51.6">Persistent Pollution</text><text x="538" y="54.4">Generation Rate</text></g>
<g id="absorption-gha"><ellipse class="a" cx="538" cy="74" rx="13" ry="4.8"/><text x="538" y="72.6">Absorption Land</text><text x="538" y="75.4">in GHa</text></g>
<g id="urban-gha"><ellipse class="a" cx="473.3" cy="82.2" rx="13.3" ry="4.3"/><text x="473.3" y="82.2">Urban Land in GHa</text></g>
<g id="ha-per-pollution"><ellipse class="a" cx="526" cy="93.2" rx="13.8" ry="4.8"/><text x="526" y="91.8">Absorption Land per</text><text x="526" y="94.6">Unit of Pollution</text></g>

<!-- ===== Human welfare index ===== -->
<g id="gdp-index"><ellipse class="a" cx="485" cy="137" rx="13.3" ry="4.3"/><text x="485" y="137">GDP Index</text></g>
<g id="hwi-iopc"><ellipse class="c" cx="538" cy="133.3" rx="15" ry="4.8"/><text x="538" y="131.9">Industrial Output Per</text><text x="538" y="134.7">Capita</text></g>
<g id="gdp-pc"><use href="#hx" x="513.3" y="145" class="h"/><text x="513.3" y="145">GDP Per Capita</text></g>
<g id="hwi"><ellipse class="a" cx="486" cy="152" rx="13.3" ry="4.5"/><text x="486" y="152">Human Welfare Index</text></g>
<g id="education-index"><use href="#hx" x="517" y="163.3" class="h"/><text x="517" y="162">Education</text><text x="517" y="164.8">Index</text></g>
<g id="hwi-le"><ellipse class="c" cx="452" cy="160.3" rx="14" ry="4.5"/><text x="452" y="160.3">Life Expectancy</text></g>
<g id="le-index"><use href="#hx" x="482" y="171.7" class="h"/><text x="482" y="170.4">Life Expectancy</text><text x="482" y="173.2">Index</text></g>

<!-- ===== Industrial sector ===== -->
<g id="ind-capital"><rect class="s" x="666" y="91" width="26.7" height="10.7"/><text x="679.3" y="96.3">Industrial Capital</text></g>
<g id="iopc-desired-hex"><use href="#hx" x="736" y="20" class="h"/><text x="736" y="20">IOPC Desired</text></g>
<g id="year-ind-eq"><ellipse class="a" cx="590" cy="31" rx="13.3" ry="4.5"/><text x="590" y="29.6">Year of Industrial</text><text x="590" y="32.4">Equilibrium</text></g>
<g id="fioa-cons"><ellipse class="a" cx="625" cy="30" rx="13.3" ry="4.5"/><text x="625" y="30">FIOA Consumption</text></g>
<g id="indicated-iopc"><ellipse class="a" cx="715" cy="38.5" rx="13.3" ry="4.5"/><text x="715" y="38.5">Indicated IOPC</text></g>
<g id="fioa-agr-i"><ellipse class="c" cx="660" cy="42.7" rx="13.3" ry="4.5"/><text x="660" y="42.7">FIOA Agriculture</text></g>
<g id="fioa-serv-i"><ellipse class="c" cx="687" cy="53" rx="13.3" ry="4.5"/><text x="687" y="53">FIOA Services</text></g>
<g id="fioa-cons-var"><ellipse class="a" cx="617" cy="59" rx="13.3" ry="4.5"/><text x="617" y="59">FIOA Cons Variable</text></g>
<g id="fioa-industry"><ellipse class="a" cx="652" cy="62" rx="13.5" ry="4.5"/><text x="652" y="62">FIOA Industry</text></g>
<g id="fioa-cons-1"><ellipse class="a" cx="588" cy="65" rx="13" ry="4.2"/><text x="588" y="65">FIOA Cons Const 1</text></g>
<g id="fioa-cons-2"><ellipse class="a" cx="633" cy="74" rx="13.3" ry="4.5"/><text x="633" y="74">FIOA Cons Const 2</text></g>
<g id="iopc-desired"><ellipse class="a" cx="726" cy="70" rx="13.3" ry="5"/><text x="726" y="68.6">Industrial Output Per</text><text x="726" y="71.4">Capita Desired</text></g>
<g id="alic-2"><ellipse class="g" cx="617" cy="90" rx="12.5" ry="4.2"/><text x="617" y="88.6">Average Life Industrial</text><text x="617" y="91.4">Capital 2</text></g>
<g id="population-i"><ellipse class="c" cx="724" cy="92" rx="13.3" ry="4.2"/><text x="724" y="92">Population</text></g>
<g id="alic"><ellipse class="a" cx="645" cy="102" rx="13.3" ry="4.7"/><text x="645" y="100.6">Average Life of</text><text x="645" y="103.4">Industrial Capital</text></g>
<g id="iopc-desired-2"><ellipse class="a" cx="747" cy="100" rx="13.3" ry="4.7"/><text x="747" y="98.6">Industrial Output Per</text><text x="747" y="101.4">Capita Desired</text></g>
<g id="alic-1"><ellipse class="a" cx="641" cy="120" rx="13.3" ry="4.5"/><text x="641" y="118.6">Average Life Industrial</text><text x="641" y="121.4">Capital 1</text></g>
<g id="pat-i"><ellipse class="c" cx="603" cy="117" rx="13.8" ry="4.2"/><text x="603" y="117">Policy Adoption Time</text></g>
<g id="iopc"><ellipse class="a" cx="729" cy="117.5" rx="13.3" ry="5"/><text x="729" y="116.1">Industrial Output</text><text x="729" y="118.9">Per Capita</text></g>
<g id="ind-output"><ellipse class="a" cx="700" cy="130" rx="13.3" ry="4.7"/><text x="700" y="130">Industrial Output</text></g>
<g id="fioa-ind-2"><ellipse class="a" cx="746" cy="131" rx="14.5" ry="5.5"/><text x="746" y="129.6">Fraction of Output</text><text x="746" y="132.4">Allocated to Industry</text></g>
<g id="icor-mult-hex"><use href="#hw" x="590" y="137" class="hl"/><text x="590" y="135.6">Industrial Capital Output</text><text x="590" y="138.4">Ratio Multiplier from Pollution</text></g>
<g id="icor"><ellipse class="a" cx="654" cy="145" rx="14" ry="5"/><text x="654" y="143.6">Industrial Capital</text><text x="654" y="146.4">Output Ratio</text></g>
<g id="icor-2"><ellipse class="a" cx="618.3" cy="147.2" rx="15" ry="4.5"/><text x="618.3" y="145.8">Industrial Capital</text><text x="618.3" y="148.6">Output Ratio 2</text></g>
<g id="cuf-i"><use href="#hx" x="696" y="147" class="hl"/><text x="696" y="145.7">Capital Utilization</text><text x="696" y="148.5">Fraction</text></g>
<g id="fcaor-i"><ellipse class="c" cx="727" cy="147" rx="13.3" ry="4.2"/><text x="727" y="147">Fr. Cap. Alloc. Obtaining Res.</text></g>
<g id="icor-tech-hex"><use href="#hx" x="595" y="160.7" class="hl"/><text x="595" y="159.4">ICOR Multiplier</text><text x="595" y="162.2">from Technology</text></g>
<g id="icor-yield-hex"><use href="#hx" x="629" y="162" class="hl"/><text x="629" y="160.7">ICOR Multiplier</text><text x="629" y="163.5">from Land Yield</text></g>
<g id="icor-1"><ellipse class="a" cx="673.3" cy="160.3" rx="13.3" ry="4.5"/><text x="673.3" y="158.9">Industrial Capital</text><text x="673.3" y="161.7">Output Ratio 1</text></g>

<!-- ===== Labor force ===== -->
<g id="luf-delay-time"><ellipse class="a" cx="53.3" cy="121" rx="15" ry="4.7"/><text x="53.3" y="119.6">Labor Utilization Fraction</text><text x="53.3" y="122.4">Delay Time</text></g>
<g id="aiph-l"><ellipse class="c" cx="120" cy="122" rx="14.5" ry="4.2"/><text x="120" y="120.6">Agricultural Input Per</text><text x="120" y="123.4">Hectare</text></g>
<g id="jobs-per-ha"><use href="#hx" x="91" y="131" class="h"/><text x="91" y="129.7">Jobs Per</text><text x="91" y="132.5">Hectare</text></g>
<g id="luf-delayed"><ellipse class="a" cx="42" cy="139.5" rx="14" ry="4.5"/><text x="42" y="138.1">Labor Utilization</text><text x="42" y="140.9">Fraction Delayed</text></g>
<g id="arable-l"><rect class="r" x="112.3" y="137.3" width="27.3" height="9"/><text x="126" y="141.8">Arable Land</text></g>
<g id="pj-agr"><ellipse class="a" cx="83.3" cy="146.7" rx="15" ry="5"/><text x="83.3" y="145.3">Potential Jobs Agricultural</text><text x="83.3" y="148.1">Sector</text></g>
<g id="cuf-hex"><use href="#hx" x="23" y="155.3" class="h"/><text x="23" y="154">Capacity Utilization</text><text x="23" y="156.8">Fraction</text></g>
<g id="jobs-per-su"><use href="#hx" x="106" y="159.7" class="h"/><text x="106" y="158.4">Jobs Per Service</text><text x="106" y="161.2">Capital Unit</text></g>
<g id="jobs"><ellipse class="a" cx="71.7" cy="163.8" rx="13.3" ry="4.3"/><text x="71.7" y="163.8">Jobs</text></g>
<g id="sopc-l"><ellipse class="c" cx="136.7" cy="168.7" rx="13.3" ry="4.7"/><text x="136.7" y="167.3">Service Output Per</text><text x="136.7" y="170.1">Capita</text></g>
<g id="luf"><ellipse class="a" cx="37.8" cy="170" rx="13.8" ry="5"/><text x="37.8" y="168.6">Labor Utilization</text><text x="37.8" y="171.4">Fraction</text></g>
<g id="pj-serv"><ellipse class="a" cx="90.8" cy="176.3" rx="14.2" ry="5"/><text x="90.8" y="174.9">Potential Jobs Service</text><text x="90.8" y="177.7">Sector</text></g>
<g id="serv-cap-l"><rect class="r" x="112" y="179" width="27" height="9"/><text x="125.5" y="183.5">Service Capital</text></g>
<g id="pj-ind"><ellipse class="a" cx="64" cy="187.3" rx="15" ry="5.3"/><text x="64" y="185.9">Potential Jobs Industrial</text><text x="64" y="188.7">Sector</text></g>
<g id="labor-force-l"><ellipse class="c" cx="28" cy="190.5" rx="13.3" ry="4.2"/><text x="28" y="190.5">Labor Force</text></g>
<g id="jobs-per-icu"><use href="#hx" x="93" y="198" class="h"/><text x="93" y="196.7">Jobs Per Industrial</text><text x="93" y="199.5">Capital Unit</text></g>
<g id="iopc-l"><ellipse class="c" cx="129.5" cy="199.5" rx="13.8" ry="4.5"/><text x="129.5" y="198.1">Industrial Output Per</text><text x="129.5" y="200.9">Capita</text></g>
<g id="ind-cap-l"><rect class="r" x="41.3" y="199" width="27.3" height="9"/><text x="55" y="203.5">Industrial Capital</text></g>

<!-- ===== Food production ===== -->
<g id="yield-tech-f"><rect class="r" x="38.3" y="228" width="26" height="9.3"/><text x="51.3" y="232.7">Yield Tech</text></g>
<g id="lyf-2"><ellipse class="a" cx="87.3" cy="237.3" rx="13" ry="4.2"/><text x="87.3" y="237.3">Land Yield Factor 2</text></g>
<g id="lyf-1"><ellipse class="a" cx="121.7" cy="235" rx="13.3" ry="4.5"/><text x="121.7" y="235">Land Yield Factor 1</text></g>
<g id="lymt-hex"><use href="#hx" x="151.3" y="243" class="h"/><text x="151.3" y="241.7">Land Yield Multiplier</text><text x="151.3" y="244.5">from Technology</text></g>
<g id="tdd-f"><ellipse class="c" cx="69.5" cy="248.5" rx="14" ry="4.5"/><text x="69.5" y="247.1">Technology Development</text><text x="69.5" y="249.9">Time</text></g>
<g id="lyf"><ellipse class="a" cx="115.7" cy="261" rx="13.3" ry="4.2"/><text x="115.7" y="261">Land Yield Factor</text></g>
<g id="pat-f1"><ellipse class="c" cx="44" cy="261" rx="12.2" ry="4.2"/><text x="44" y="261">Policy Adoption Time</text></g>
<g id="fspd"><ellipse class="a" cx="200" cy="251.2" rx="13.3" ry="4.5"/><text x="200" y="249.8">Food Shortage</text><text x="200" y="252.6">Perception Delay</text></g>
<g id="pfr"><ellipse class="a" cx="182.3" cy="268.3" rx="13" ry="4.7"/><text x="182.3" y="266.9">Perceived Food</text><text x="182.3" y="269.7">Ratio</text></g>
<g id="air-f"><ellipse class="c" cx="144.5" cy="271.7" rx="15" ry="5"/><text x="144.5" y="270.3">Air pollution effect on</text><text x="144.5" y="273.1">agricultural yield</text></g>
<g id="mlymc"><ellipse class="a" cx="68.3" cy="273.3" rx="13.3" ry="4.7"/><text x="68.3" y="271.9">Marginal Land Yield</text><text x="68.3" y="274.7">Multiplier Capital</text></g>
<g id="lymap-hex"><use href="#hx" x="92" y="288.3" class="h"/><text x="92" y="287">Land Yield Multiplier</text><text x="92" y="289.8">from Air Pollution</text></g>
<g id="land-yield"><ellipse class="a" cx="127.3" cy="286.7" rx="13.3" ry="4.7"/><text x="127.3" y="286.7">Land Yield</text></g>
<g id="pop-f"><ellipse class="c" cx="182.7" cy="289.3" rx="13.3" ry="4.5"/><text x="182.7" y="289.3">Population</text></g>
<g id="sfpc"><ellipse class="a" cx="223.3" cy="279" rx="13.3" ry="4.2"/><text x="223.3" y="277.6">Subsistence Food</text><text x="223.3" y="280.4">Per Capita</text></g>
<g id="ifpc-1-hex"><use href="#hx" x="245.3" y="289" class="h"/><text x="245.3" y="287.7">Indicated Food Per</text><text x="245.3" y="290.5">Capita 1</text></g>
<g id="iopc-f"><ellipse class="c" cx="275" cy="280.8" rx="13.3" ry="4.5"/><text x="275" y="279.4">Industrial Output</text><text x="275" y="282.2">Per Capita</text></g>
<g id="land-fert-f"><rect class="r" x="111.7" y="297" width="21.7" height="9.3"/><text x="122.5" y="301.7">Land Fertility</text></g>
<g id="fialm-hex"><use href="#hx" x="154" y="294.5" class="h"/><text x="154" y="293.2">Fr. Inputs Allocated to</text><text x="154" y="296">Land Maintenance</text></g>
<g id="lymc-hex"><use href="#hx" x="78" y="302" class="h"/><text x="78" y="300.7">Land Yield Multiplier</text><text x="78" y="303.5">from Capital</text></g>
<g id="food-ratio"><ellipse class="a" cx="211.3" cy="296" rx="13.3" ry="4.7"/><text x="211.3" y="296">Food Ratio</text></g>
<g id="ifpc-2-hex"><use href="#hx" x="271.3" y="301.7" class="h"/><text x="271.3" y="300.4">Indicated Food Per</text><text x="271.3" y="303.2">Capita 2</text></g>
<g id="fpc"><ellipse class="a" cx="179.3" cy="310" rx="13.3" ry="4.7"/><text x="179.3" y="310">Food Per Capita</text></g>
<g id="ifpc"><ellipse class="a" cx="242.7" cy="307.2" rx="13.3" ry="4.5"/><text x="242.7" y="305.8">Indicated Food Per</text><text x="242.7" y="308.6">Capita</text></g>
<g id="alai"><ellipse class="a" cx="56.7" cy="311.2" rx="13.3" ry="4.5"/><text x="56.7" y="309.8">Average Life Agricultural</text><text x="56.7" y="312.6">Inputs</text></g>
<g id="tai"><ellipse class="a" cx="208.3" cy="315.2" rx="13.3" ry="4.5"/><text x="208.3" y="313.8">Total Agricultural</text><text x="208.3" y="316.6">Investment</text></g>
<g id="pat-f2"><ellipse class="c" cx="262.5" cy="322.2" rx="12.5" ry="4.2"/><text x="262.5" y="322.2">Policy Adoption Time</text></g>
<g id="alai-2"><ellipse class="g" cx="38.8" cy="328" rx="14.5" ry="4.5"/><text x="38.8" y="326.6">Average Life Agricultural</text><text x="38.8" y="329.4">Inputs 2</text></g>
<g id="ag-inputs"><ellipse class="a" cx="89" cy="326" rx="11.7" ry="4.7"/><text x="89" y="326">Agricultural Inputs</text></g>
<g id="aiph"><ellipse class="a" cx="128.3" cy="323.7" rx="14" ry="5.3"/><text x="128.3" y="322.3">Agricultural Inputs Per</text><text x="128.3" y="325.1">Hectare</text></g>
<g id="food"><ellipse class="a" cx="154" cy="328.3" rx="13.3" ry="5"/><text x="154" y="328.3">Food</text></g>
<g id="proc-loss"><ellipse class="a" cx="186" cy="327.5" rx="12.5" ry="4.2"/><text x="186" y="327.5">Processing Loss</text></g>
<g id="fioaa-2-hex"><use href="#hx" x="232" y="326" class="h"/><text x="232" y="326">FIOA Agriculture 2</text></g>
<g id="fioaa-1-hex"><use href="#hx" x="209" y="338.3" class="h"/><text x="209" y="338.3">FIOA Agriculture 1</text></g>
<g id="cai"><ellipse class="c" cx="100.7" cy="341.7" rx="14.7" ry="5"/><text x="100.7" y="340.3">Current Agricultural</text><text x="100.7" y="343.1">Inputs</text></g>
<g id="lfh"><ellipse class="a" cx="174.7" cy="347.5" rx="13" ry="4.2"/><text x="174.7" y="346.1">Land Fraction</text><text x="174.7" y="348.9">Harvested</text></g>
<g id="alai-1"><ellipse class="a" cx="59" cy="345.5" rx="13.8" ry="4.5"/><text x="59" y="344.1">Average Life Agricultural</text><text x="59" y="346.9">Inputs 1</text></g>
<g id="arable-f"><rect class="r" x="129.3" y="342.3" width="26.7" height="9.7"/><text x="142.7" y="347.2">Arable Land</text></g>
<g id="fioaa"><ellipse class="a" cx="241.7" cy="350.5" rx="13.3" ry="4.2"/><text x="241.7" y="350.5">FIOA Agriculture</text></g>
<g id="diopc-f"><ellipse class="a" cx="275.3" cy="340.7" rx="13.3" ry="4.7"/><text x="275.3" y="339.3">Delayed Industrial</text><text x="275.3" y="342.1">Output Per Capita</text></g>
<g id="io-f"><ellipse class="c" cx="291.3" cy="326.7" rx="13" ry="4.7"/><text x="291.3" y="326.7">Industrial Output</text></g>

<!-- ===== Service sector ===== -->
<g id="service-capital"><rect class="s" x="351.7" y="247.3" width="26.7" height="9"/><text x="365" y="251.8">Service Capital</text></g>
<g id="io-s"><ellipse class="c" cx="391.7" cy="220.5" rx="13.3" ry="4.5"/><text x="391.7" y="220.5">Industrial Output</text></g>
<g id="fioas-c"><ellipse class="c" cx="405" cy="239" rx="13.3" ry="4.2"/><text x="405" y="239">FIOA Services</text></g>
<g id="cuf-s"><use href="#hx" x="485" y="245" class="hl"/><text x="485" y="243.7">Capital Utilization</text><text x="485" y="246.5">Fraction</text></g>
<g id="service-output"><ellipse class="a" cx="454.5" cy="255.8" rx="13.8" ry="4.5"/><text x="454.5" y="255.8">Service Output</text></g>
<g id="scor-2"><ellipse class="a" cx="418.3" cy="269.5" rx="15" ry="4.5"/><text x="418.3" y="268.1">Service Capital Output</text><text x="418.3" y="270.9">Ratio 2</text></g>
<g id="scor-1"><ellipse class="a" cx="456.3" cy="281.3" rx="14.7" ry="4.7"/><text x="456.3" y="279.9">Service Capital Output</text><text x="456.3" y="282.7">Ratio 1</text></g>
<g id="scor"><ellipse class="a" cx="419.2" cy="289.2" rx="15.8" ry="4.8"/><text x="419.2" y="287.8">Service Capital</text><text x="419.2" y="290.6">Output Ratio</text></g>
<g id="pop-s"><ellipse class="c" cx="500.7" cy="281" rx="13" ry="4.3"/><text x="500.7" y="281">Population</text></g>
<g id="alsc-2"><ellipse class="g" cx="351.7" cy="297.3" rx="13.3" ry="4.7"/><text x="351.7" y="295.9">Average Life of Service</text><text x="351.7" y="298.7">Capital 2</text></g>
<g id="sopc"><ellipse class="a" cx="492.7" cy="297.7" rx="15" ry="4.7"/><text x="492.7" y="296.3">Service Output Per</text><text x="492.7" y="299.1">Capita</text></g>
<g id="fioas-2-hex"><use href="#hx" x="450.5" y="300.2" class="h"/><text x="450.5" y="300.2">FIOA Services 2</text></g>
<g id="alsc"><ellipse class="a" cx="383.3" cy="313.3" rx="15.7" ry="5"/><text x="383.3" y="311.9">Average Life of Service</text><text x="383.3" y="314.7">Capital</text></g>
<g id="fioas-1-hex"><use href="#hx" x="452.5" y="316.8" class="h"/><text x="452.5" y="316.8">FIOA Services 1</text></g>
<g id="isopc"><ellipse class="a" cx="485.8" cy="321.3" rx="14.2" ry="4.7"/><text x="485.8" y="319.9">Indicated Service Output</text><text x="485.8" y="322.7">Per Capita</text></g>
<g id="alsc-1"><ellipse class="a" cx="354.3" cy="330.2" rx="13.3" ry="4.8"/><text x="354.3" y="328.8">Average Life of Service</text><text x="354.3" y="331.6">Capital 1</text></g>
<g id="fioas"><ellipse class="a" cx="420.2" cy="322.8" rx="12.8" ry="4.5"/><text x="420.2" y="322.8">FIOA Services</text></g>
<g id="isopc-d"><ellipse class="a" cx="446.7" cy="336.2" rx="13.3" ry="4.5"/><text x="446.7" y="334.8">Indicated Service</text><text x="446.7" y="337.6">Output Per Capita</text></g>
<g id="pat-s"><ellipse class="c" cx="393.5" cy="343.2" rx="12.5" ry="4.5"/><text x="393.5" y="343.2">Policy Adoption Time</text></g>
<g id="isopc-1-hex"><use href="#hx" x="430" y="351.3" class="h"/><text x="430" y="350">Indicated SOPC</text><text x="430" y="352.8">1</text></g>
<g id="isopc-2-hex"><use href="#hx" x="464" y="351.3" class="h"/><text x="464" y="350">Indicated SOPC</text><text x="464" y="352.8">2</text></g>
<g id="iopc-s"><ellipse class="c" cx="446.7" cy="366.3" rx="13.3" ry="4"/><text x="446.7" y="365.3">Industrial Output Per</text><text x="446.7" y="367.8">Capita</text></g>

<!-- ===== Non-renewable resources ===== -->
<g id="nr"><rect class="s" x="600.7" y="198" width="26.7" height="9"/><text x="614" y="202.5">Non Renewable Res.</text></g>
<g id="ruf-1"><ellipse class="a" cx="656" cy="200" rx="13.3" ry="4.5"/><text x="656" y="198.6">Resource Use</text><text x="656" y="201.4">Factor 1</text></g>
<g id="ruf-2"><ellipse class="a" cx="706" cy="203" rx="13.3" ry="4.5"/><text x="706" y="201.6">Resource Use</text><text x="706" y="204.4">Factor 2</text></g>
<g id="tdd-r"><ellipse class="a" cx="635" cy="214" rx="13.3" ry="4.2"/><text x="635" y="212.6">Technology</text><text x="635" y="215.4">Development Delay</text></g>
<g id="pcrum"><ellipse class="a" cx="676.5" cy="218" rx="16.3" ry="5"/><text x="676.5" y="216.6">Per Capita Resource Use</text><text x="676.5" y="219.4">Multiplier</text></g>
<g id="ruf-delay-hex"><use href="#hx" x="719" y="220.7" class="h"/><text x="719" y="219.4">Resource Use</text><text x="719" y="222.2">Fact Delay</text></g>
<g id="pat-r"><ellipse class="c" cx="627" cy="227.5" rx="13.8" ry="4.2"/><text x="627" y="227.5">Policy Adoption Time</text></g>
<g id="rtcm-hex"><use href="#hw" x="590.5" y="234" class="h"/><text x="590.5" y="232.7">Resource Technology</text><text x="590.5" y="235.5">Change Multiplier</text></g>
<g id="pcrum-hex"><use href="#hx" x="690.3" y="234" class="h"/><text x="690.3" y="232.7">Per Capita Resource</text><text x="690.3" y="235.5">Use Multiplier</text></g>
<g id="pop-r"><ellipse class="c" cx="632" cy="239" rx="13.3" ry="4.2"/><text x="632" y="239">Population</text></g>
<g id="resource-tech"><rect class="s" x="640" y="260" width="27.3" height="10"/><text x="653.7" y="265">Resource Technology</text></g>
<g id="iopc-r"><ellipse class="c" cx="719.3" cy="245.3" rx="13.3" ry="4.7"/><text x="719.3" y="243.9">Industrial Output</text><text x="719.3" y="246.7">Per Capita</text></g>
<g id="rtc"><ellipse class="a" cx="623.7" cy="254.7" rx="13.7" ry="4.7"/><text x="623.7" y="253.3">Resource Technology</text><text x="623.7" y="256.1">Change</text></g>
<g id="drur"><ellipse class="a" cx="676.7" cy="250" rx="13.3" ry="4.3"/><text x="676.7" y="248.6">Desired Resource</text><text x="676.7" y="251.4">Use Rate</text></g>
<g id="frr"><ellipse class="a" cx="697.5" cy="262" rx="13.8" ry="4.7"/><text x="697.5" y="260.6">Fraction of Resources</text><text x="697.5" y="263.4">Remaining</text></g>
<g id="rtcr"><ellipse class="a" cx="610.3" cy="272" rx="13.7" ry="4.3"/><text x="610.3" y="270.6">Resource Technology</text><text x="610.3" y="273.4">Change Rate</text></g>
<g id="fcaor-1-hex"><use href="#hx" x="686" y="280" class="h"/><text x="686" y="278.7">Fr. Cap. Alloc.</text><text x="686" y="281.5">Res. 1</text></g>
<g id="fcaor-2-hex"><use href="#hx" x="719" y="283" class="h"/><text x="719" y="281.7">Fr. Cap. Alloc.</text><text x="719" y="284.5">Res. 2</text></g>
<g id="tcaru"><ellipse class="a" cx="648.7" cy="289.2" rx="15.3" ry="5.5"/><text x="648.7" y="287.8">Time of Capital Allocation to</text><text x="648.7" y="290.6">Resource Use Efficiency</text></g>
<g id="fcaor"><ellipse class="a" cx="683" cy="295.3" rx="13.7" ry="4.7"/><text x="683" y="293.9">Fr. Cap. Alloc.</text><text x="683" y="296.7">Obtaining Res.</text></g>

<!-- ===== Arable land dynamics ===== -->
<g id="pal-total"><ellipse class="c" cx="643" cy="328" rx="13.3" ry="4.7"/><text x="643" y="326.6">Potentially Arable</text><text x="643" y="329.4">Land Total</text></g>
<g id="tai-a"><ellipse class="a" cx="675.3" cy="336.2" rx="15.3" ry="4.5"/><text x="675.3" y="336.2">Total Agricultural Investment</text></g>
<g id="fiald-c"><ellipse class="c" cx="722" cy="334" rx="13.3" ry="4.7"/><text x="722" y="332.6">Fraction of Inputs</text><text x="722" y="335.4">for Land Development</text></g>
<g id="pal"><rect class="s" x="589.3" y="337" width="26.7" height="9.3"/><text x="602.7" y="340.3">Potentially</text><text x="602.7" y="343.1">Arable Land</text></g>
<g id="dcph-hex"><use href="#hx" x="647.8" y="348.5" class="h"/><text x="647.8" y="347.2">Development Cost</text><text x="647.8" y="350">Per Hectare</text></g>
<g id="mpld"><ellipse class="a" cx="703.3" cy="349.2" rx="11.7" ry="4.5"/><text x="703.3" y="347.8">Marginal Productivity</text><text x="703.3" y="350.6">of Land Development</text></g>
<g id="dcph-t-hex"><use href="#hw" x="685" y="360.3" class="h"/><text x="685" y="359">Development Cost Per</text><text x="685" y="361.8">Hectare Table</text></g>
<g id="arable-land"><rect class="s" x="591.7" y="369" width="26.7" height="9.3"/><text x="605" y="373.7">Arable Land</text></g>
<g id="lfc"><ellipse class="a" cx="636.7" cy="371.3" rx="13.3" ry="4.7"/><text x="636.7" y="369.9">Land Fraction</text><text x="636.7" y="372.7">Cultivated</text></g>
<g id="fiald"><ellipse class="a" cx="683.7" cy="376.7" rx="13.7" ry="5"/><text x="683.7" y="375.3">Fraction of Inputs</text><text x="683.7" y="378.1">Allocated to Land Dev.</text></g>
<g id="mlymc-a"><ellipse class="a" cx="739.7" cy="375.8" rx="13" ry="4.2"/><text x="739.7" y="374.4">Marginal Land Yield</text><text x="739.7" y="377.2">Multiplier Capital</text></g>
<g id="uil"><rect class="s" x="591.7" y="402.3" width="26.7" height="10"/><text x="605" y="405.9">Urban Industrial</text><text x="605" y="408.7">Land</text></g>
<g id="uild"><ellipse class="a" cx="629.7" cy="387.7" rx="13.7" ry="4.7"/><text x="629.7" y="386.3">Urban Industrial</text><text x="629.7" y="389.1">Land Development</text></g>
<g id="iuil"><ellipse class="a" cx="656.7" cy="383" rx="13.3" ry="5"/><text x="656.7" y="381.6">Indicated Urban</text><text x="656.7" y="384.4">Industrial Land</text></g>
<g id="ag-inputs-a"><rect class="r" x="675" y="385.7" width="27.7" height="10"/><text x="688.8" y="390.7">Agricultural Inputs</text></g>
<g id="mpai"><ellipse class="a" cx="726.2" cy="396.7" rx="15.5" ry="5"/><text x="726.2" y="395.3">Marginal Productivity of</text><text x="726.2" y="398.1">Agricultural Inputs</text></g>
<g id="ler"><ellipse class="a" cx="569.5" cy="401" rx="9.2" ry="4.7"/><text x="569.5" y="399.6">Land Erosion</text><text x="569.5" y="402.4">Rate</text></g>
<g id="pop-a"><ellipse class="c" cx="640.5" cy="400.8" rx="11.2" ry="4.2"/><text x="640.5" y="400.8">Population</text></g>
<g id="uilpc-hex"><use href="#hx" x="669.3" y="403.3" class="h"/><text x="669.3" y="402">Urban Industrial Land</text><text x="669.3" y="404.8">per Capita</text></g>
<g id="iopc-a"><ellipse class="c" cx="700" cy="410.5" rx="13.3" ry="4.2"/><text x="700" y="409.1">Industrial Output</text><text x="700" y="411.9">per Capita</text></g>
<g id="uildt"><ellipse class="a" cx="639.2" cy="413" rx="17.5" ry="5"/><text x="639.2" y="411.6">Urban Industrial Land</text><text x="639.2" y="414.4">Development Time</text></g>
<g id="all"><ellipse class="a" cx="582.2" cy="425.3" rx="13.8" ry="4.7"/><text x="582.2" y="425.3">Average Life of Land</text></g>
<g id="llmy-1-hex"><use href="#hx" x="671.7" y="424.3" class="h"/><text x="671.7" y="423">Land Life Multiplier</text><text x="671.7" y="425.8">from Yield 1</text></g>
<g id="llmy-a"><ellipse class="a" cx="631.8" cy="427" rx="14.5" ry="4.2"/><text x="631.8" y="425.6">Land Life Multiplier</text><text x="631.8" y="428.4">from Yield</text></g>
<g id="land-yield-a"><ellipse class="c" cx="720" cy="428.5" rx="13.3" ry="4.5"/><text x="720" y="428.5">Land Yield</text></g>
<g id="llmy-b"><ellipse class="a" cx="609.5" cy="440.5" rx="12.8" ry="4.5"/><text x="609.5" y="439.1">Land Life</text><text x="609.5" y="441.9">Multiplier</text></g>
<g id="lyf-a"><ellipse class="a" cx="665.5" cy="440.5" rx="12.8" ry="4.5"/><text x="665.5" y="439.1">Land Yield</text><text x="665.5" y="441.9">Factor Ratio</text></g>
<g id="alln"><ellipse class="a" cx="571" cy="445.7" rx="10.5" ry="5.3"/><text x="571" y="444.3">Average Life of</text><text x="571" y="447.1">Land Normal</text></g>
<g id="llmy-2-hex"><use href="#hx" x="636.8" y="450.2" class="h"/><text x="636.8" y="448.9">Land Life Multiplier</text><text x="636.8" y="451.7">from Yield 2</text></g>
<g id="ilf-a"><ellipse class="c" cx="700.3" cy="451.3" rx="13.7" ry="4.7"/><text x="700.3" y="449.9">Inherent Land</text><text x="700.3" y="452.7">Fertility</text></g>

<!-- ===== Land fertility ===== -->
<g id="land-fertility"><rect class="s" x="68.3" y="406.7" width="26.7" height="10"/><text x="81.7" y="411.7">Land Fertility</text></g>
<g id="ilf"><ellipse class="a" cx="53.3" cy="387.5" rx="13.3" ry="4.2"/><text x="53.3" y="387.5">Inherent Land Fertility</text></g>
<g id="lfrt-hex"><use href="#hw" x="46" y="407.2" class="h"/><text x="46" y="405.9">Land Fertility</text><text x="46" y="408.7">Regeneration Time</text></g>
<g id="lfrt-tab"><use href="#hx" x="36" y="424" class="hl"/><text x="36" y="422.7">Land Fert. Regen.</text><text x="36" y="425.5">Time Table</text></g>
<g id="lfdr-hex"><use href="#hw" x="114" y="417.5" class="h"/><text x="114" y="416.2">Land Fertility</text><text x="114" y="419">Degradation Rate</text></g>
<g id="ppi-k"><ellipse class="c" cx="112" cy="436.5" rx="15" ry="4.5"/><text x="112" y="436.5">Persistent Pollution Index</text></g>
<g id="fr-k"><ellipse class="c" cx="147.5" cy="389.5" rx="12.5" ry="4.5"/><text x="147.5" y="389.5">Food Ratio</text></g>
<g id="frd"><ellipse class="a" cx="179" cy="399.5" rx="13.3" ry="4.5"/><text x="179" y="399.5">Food Ratio Difference</text></g>
<g id="dfr"><ellipse class="a" cx="215" cy="390.5" rx="13" ry="4.5"/><text x="215" y="390.5">Desired Food Ratio</text></g>
<g id="pat-k"><ellipse class="c" cx="149" cy="417" rx="12.5" ry="4.2"/><text x="149" y="417">Policy Adoption Time</text></g>
<g id="ytcm-hex"><use href="#hw" x="194.3" y="416.7" class="h"/><text x="194.3" y="415.4">Yield Tech Change</text><text x="194.3" y="418.2">Multiplier</text></g>
<g id="yield-tech"><rect class="s" x="188.3" y="430" width="27.3" height="9.3"/><text x="202" y="434.7">Yield Tech</text></g>

<!-- ===== Human fertility ===== -->
<g id="iopc-h"><ellipse class="c" cx="53.3" cy="471.3" rx="13.3" ry="4.7"/><text x="53.3" y="469.9">Industrial Output Per</text><text x="53.3" y="472.7">Capita</text></g>
<g id="aiopc"><ellipse class="a" cx="126.7" cy="475" rx="13.3" ry="4.7"/><text x="126.7" y="473.6">Average Industrial</text><text x="126.7" y="476.4">Output Per Capita</text></g>
<g id="ieat"><ellipse class="a" cx="161" cy="475" rx="13.3" ry="4.7"/><text x="161" y="473.6">Income Expectation</text><text x="161" y="476.4">Averaging Time</text></g>
<g id="fie"><ellipse class="a" cx="91.3" cy="482" rx="13.7" ry="4.7"/><text x="91.3" y="480.6">Family Income</text><text x="91.3" y="483.4">Expectation</text></g>
<g id="yfce"><ellipse class="g" cx="197.2" cy="479.2" rx="14.2" ry="4.2"/><text x="197.2" y="477.8">Year of Fertility Control</text><text x="197.2" y="480.6">Effectiveness</text></g>
<g id="dcfsn-hex"><polygon points="33.8,494 38.3,489.5 61.7,489.5 66.2,494 61.7,498.5 38.3,498.5" class="g"/><text x="50" y="492.7">Desired Completed Family</text><text x="50" y="495.5">Size Normal</text></g>
<g id="frsn-hex"><use href="#hx" x="77.5" y="497" class="h"/><text x="77.5" y="495.7">Family Response</text><text x="77.5" y="498.5">To Social Norm</text></g>
<g id="tf"><ellipse class="a" cx="108.3" cy="494.2" rx="13.3" ry="4.2"/><text x="108.3" y="494.2">Total Fertility</text></g>
<g id="fce"><ellipse class="a" cx="163.5" cy="487.5" rx="14.3" ry="5"/><text x="163.5" y="486.1">Fertility Control</text><text x="163.5" y="488.9">Effectiveness</text></g>
<g id="mtf"><ellipse class="a" cx="128.3" cy="509" rx="15" ry="5"/><text x="128.3" y="507.6">Maximum Total</text><text x="128.3" y="510.4">Fertility</text></g>
<g id="mtfn"><ellipse class="a" cx="163" cy="506" rx="13.8" ry="4.2"/><text x="163" y="504.6">Maximum Total</text><text x="163" y="507.4">Fertility Normal</text></g>
<g id="fcet-hex"><use href="#hw" x="207" y="505" class="h"/><text x="207" y="503.7">Fertility Control</text><text x="207" y="506.5">Effectiveness Table</text></g>
<g id="dcfs"><ellipse class="a" cx="75" cy="513.2" rx="13.3" ry="4.5"/><text x="75" y="511.8">Desired Completed</text><text x="75" y="514.6">Family Size</text></g>
<g id="sfsn"><ellipse class="a" cx="53.3" cy="525.3" rx="13.3" ry="4.7"/><text x="53.3" y="523.9">Social Family</text><text x="53.3" y="526.7">Size Normal</text></g>
<g id="fm-hex"><use href="#hx" x="151.3" y="520" class="h"/><text x="151.3" y="518.7">Fecundity</text><text x="151.3" y="521.5">Multiplier</text></g>
<g id="le-h"><ellipse class="c" cx="183.3" cy="519.3" rx="13.3" ry="4.7"/><text x="183.3" y="519.3">Life Expectancy</text></g>
<g id="dtf"><ellipse class="a" cx="92" cy="526.7" rx="13.3" ry="5"/><text x="92" y="525.3">Desired Total</text><text x="92" y="528.1">Fertility</text></g>
<g id="nfc"><ellipse class="a" cx="127.5" cy="531.7" rx="13.3" ry="5"/><text x="127.5" y="530.3">Need for Fertility</text><text x="127.5" y="533.1">Control</text></g>
<g id="sfsn-hex"><use href="#hx" x="62" y="541" class="h"/><text x="62" y="539.7">Social Family</text><text x="62" y="542.5">Size Norm</text></g>
<g id="fcfpc-hex"><use href="#hx" x="133" y="547" class="h"/><text x="133" y="545.7">Fertility Control</text><text x="133" y="548.5">Facilities Multiplier</text></g>
<g id="fcfpc"><ellipse class="a" cx="178.3" cy="543.3" rx="13.7" ry="5"/><text x="178.3" y="541.9">Fertility Control</text><text x="178.3" y="544.7">Facilities Per Capita</text></g>
<g id="cmple-hex"><use href="#hx" x="98.3" y="549" class="h"/><text x="98.3" y="547.7">Completed Multiplier</text><text x="98.3" y="550.5">from PLE</text></g>
<g id="diopc"><ellipse class="a" cx="66" cy="563.3" rx="15" ry="5"/><text x="66" y="561.9">Delayed Industrial</text><text x="66" y="564.7">Output Per Capita</text></g>
<g id="cmple"><ellipse class="a" cx="105.3" cy="567.7" rx="13.3" ry="5"/><text x="105.3" y="566.3">Perceived Life</text><text x="105.3" y="569.1">Expectancy</text></g>
<g id="fcapc"><ellipse class="a" cx="152.5" cy="564.2" rx="14.2" ry="5"/><text x="152.5" y="562.8">Fertility Control</text><text x="152.5" y="565.6">Allocation Per Capita</text></g>
<g id="hsid"><ellipse class="a" cx="198.5" cy="562.5" rx="13.7" ry="5"/><text x="198.5" y="561.1">Health Services</text><text x="198.5" y="563.9">Impact Delay</text></g>
<g id="sad"><ellipse class="a" cx="65" cy="581" rx="13.7" ry="5"/><text x="65" y="579.6">Social Adjustment</text><text x="65" y="582.4">Delay</text></g>
<g id="le-h2"><ellipse class="c" cx="95" cy="582.5" rx="13.3" ry="4.2"/><text x="95" y="582.5">Life Expectancy</text></g>
<g id="lpd"><ellipse class="a" cx="126" cy="580" rx="12" ry="5"/><text x="126" y="578.6">Lifetime Perception</text><text x="126" y="581.4">Delay</text></g>
<g id="sopc-h"><ellipse class="c" cx="172.5" cy="583.3" rx="13.8" ry="5"/><text x="172.5" y="581.9">Service Output</text><text x="172.5" y="584.7">Per Capita</text></g>

<!-- ===== Pollution dynamics ===== -->
<g id="pptct"><ellipse class="a" cx="290.3" cy="434" rx="12.5" ry="4.7"/><text x="290.3" y="432.6">PP Tech Change</text><text x="290.3" y="435.4">Time</text></g>
<g id="ymt1-hex"><use href="#hx" x="326.3" y="435" class="h"/><text x="326.3" y="433.7">Yield Multiplier</text><text x="326.3" y="436.5">for Tech 1</text></g>
<g id="io-m"><ellipse class="c" cx="391.3" cy="437.5" rx="13.3" ry="4.2"/><text x="391.3" y="437.5">Industrial Output</text></g>
<g id="ppgf"><ellipse class="a" cx="480" cy="432.2" rx="13.3" ry="4.5"/><text x="480" y="430.8">Industrial Pollution</text><text x="480" y="433.6">Generation Factor</text></g>
<g id="pop-m"><ellipse class="c" cx="463.5" cy="443.7" rx="12.8" ry="4.7"/><text x="463.5" y="443.7">Population</text></g>
<g id="ppim-hex"><use href="#hx" x="507" y="439" class="hl"/><text x="507" y="437.7">Pers. Pollution</text><text x="507" y="440.5">Intensity Multiplier</text></g>
<g id="ppfai"><ellipse class="a" cx="280" cy="453.3" rx="14.7" ry="4.7"/><text x="280" y="451.9">Pers. Pollution Factor for</text><text x="280" y="454.7">Agricultural Inputs</text></g>
<g id="fio70"><ellipse class="a" cx="346" cy="453.3" rx="13.3" ry="4.7"/><text x="346" y="451.9">Fraction of Industrial</text><text x="346" y="454.7">Output per 1970</text></g>
<g id="ymt2-hex"><use href="#hx" x="312" y="461.7" class="h"/><text x="312" y="460.4">Yield Multiplier</text><text x="312" y="463.2">for Tech 2</text></g>
<g id="pat-m"><ellipse class="c" cx="391.3" cy="459" rx="13.3" ry="4.2"/><text x="391.3" y="459">Policy Adoption Time</text></g>
<g id="pptmi-hex"><use href="#hw" x="425.8" y="464.5" class="h"/><text x="425.8" y="462.4">Persistent Pollution</text><text x="425.8" y="464.8">Tech Multiplier</text><text x="425.8" y="467.2">ICOR Cofactor</text></g>
<g id="ppii"><ellipse class="a" cx="456.7" cy="459" rx="13.3" ry="4.7"/><text x="456.7" y="457.6">Persistent Pollution</text><text x="456.7" y="460.4">Intensity Index</text></g>
<g id="ppgi"><ellipse class="a" cx="485.5" cy="468.3" rx="14.2" ry="5"/><text x="485.5" y="466.9">Persistent Pollution</text><text x="485.5" y="469.7">Generation Industry</text></g>
<g id="ppiiop"><ellipse class="a" cx="512.5" cy="453.3" rx="12.5" ry="4.7"/><text x="512.5" y="451.9">Industrial Pollution</text><text x="512.5" y="454.7">from IOPC</text></g>
<g id="iopc70"><ellipse class="a" cx="331" cy="474.2" rx="14.5" ry="4.5"/><text x="331" y="472.8">Industrial Output</text><text x="331" y="475.6">Per Capita 1970</text></g>
<g id="ppt"><rect class="s" x="352" y="490.7" width="26" height="10"/><text x="365" y="494.3">Persistent Pollution</text><text x="365" y="497.1">Technology</text></g>
<g id="ppgf2"><ellipse class="a" cx="397" cy="482" rx="14.7" ry="4.5"/><text x="397" y="480.6">Persistent Pollution Gen.</text><text x="397" y="483.4">Factor 2</text></g>
<g id="ppgfac"><ellipse class="a" cx="428.5" cy="492.7" rx="14.5" ry="4.7"/><text x="428.5" y="491.3">Persistent Pollution</text><text x="428.5" y="494.1">Generation Factor</text></g>
<g id="ppgf1"><ellipse class="a" cx="458.7" cy="488" rx="13.3" ry="4"/><text x="458.7" y="486.6">Persistent Pollution</text><text x="458.7" y="489.4">Gen. Factor 1</text></g>
<g id="tdd-m"><ellipse class="c" cx="399" cy="499.2" rx="12.5" ry="4.3"/><text x="399" y="497.8">Technology</text><text x="399" y="500.6">Development Delay</text></g>
<g id="ppgi2"><ellipse class="a" cx="504.8" cy="484.5" rx="13" ry="4.2"/><text x="504.8" y="483.1">Persistent Pollution</text><text x="504.8" y="485.9">Desired</text></g>
<g id="dppi"><ellipse class="a" cx="289.2" cy="480.5" rx="17.2" ry="4.5"/><text x="289.2" y="479.1">Desired Persistent</text><text x="289.2" y="481.9">Pollution Index</text></g>
<g id="pptc"><ellipse class="a" cx="293.3" cy="499.2" rx="15" ry="4.3"/><text x="293.3" y="497.8">Persistent Pollution Tech</text><text x="293.3" y="500.6">Change</text></g>
<g id="pptcm-hex"><use href="#hw" x="330.8" y="507.5" class="h"/><text x="330.8" y="505.4">Persistent Pollution</text><text x="330.8" y="507.8">Tech Change</text><text x="330.8" y="510.2">Multiplier</text></g>
<g id="pp"><rect class="s" x="341.3" y="543" width="27.3" height="10"/><text x="355" y="548">Persistent Pollution</text></g>
<g id="pptd"><ellipse class="a" cx="381.8" cy="515" rx="14.5" ry="5"/><text x="381.8" y="513.6">Persistent Pollution</text><text x="381.8" y="516.4">Transmission Delay</text></g>
<g id="arable-m"><rect class="r" x="475.3" y="512" width="26.7" height="9.3"/><text x="488.7" y="516.7">Arable Land</text></g>
<g id="ppgr"><ellipse class="a" cx="426.8" cy="525" rx="15" ry="5"/><text x="426.8" y="523.6">Persistent Pollution</text><text x="426.8" y="526.4">Generation Rate</text></g>
<g id="ppi"><ellipse class="a" cx="313.8" cy="524.5" rx="15" ry="4.8"/><text x="313.8" y="524.5">Persistent Pollution Index</text></g>
<g id="pp70"><ellipse class="a" cx="281.3" cy="537.8" rx="13.3" ry="5"/><text x="281.3" y="536.4">Persistent Pollution</text><text x="281.3" y="539.2">in 1970</text></g>
<g id="ahlm-hex"><use href="#hx" x="315.3" y="544.5" class="h"/><text x="315.3" y="542.4">Assimilation</text><text x="315.3" y="544.8">Half Life</text><text x="315.3" y="547.2">Multiplier</text></g>
<g id="ppgag"><ellipse class="a" cx="463.3" cy="539" rx="14.7" ry="5.3"/><text x="463.3" y="537.6">Persistent Pollution Gen.</text><text x="463.3" y="540.4">Agriculture</text></g>
<g id="amti"><ellipse class="a" cx="434.8" cy="548.3" rx="15.5" ry="5.7"/><text x="434.8" y="546.9">Agricultural Material</text><text x="434.8" y="549.7">Toxicity Index</text></g>
<g id="aiph-m"><ellipse class="c" cx="492" cy="547.2" rx="13.3" ry="4.2"/><text x="492" y="545.8">Agricultural Inputs</text><text x="492" y="548.6">per Hectare</text></g>
<g id="ahl"><ellipse class="a" cx="324.3" cy="560.8" rx="13.7" ry="4.5"/><text x="324.3" y="560.8">Assimilation Half Life</text></g>
<g id="ppfaiph"><ellipse class="a" cx="466.3" cy="561.7" rx="15" ry="5"/><text x="466.3" y="560.3">Fraction of Agricultural</text><text x="466.3" y="563.1">Inputs per Hectare</text></g>
<g id="ahl70"><ellipse class="a" cx="291.7" cy="567.8" rx="16" ry="5"/><text x="291.7" y="566.4">Assimilation Half Life</text><text x="291.7" y="569.2">in 1970</text></g>

<!-- ===== Life expectancy ===== -->
<g id="iopc-n"><ellipse class="c" cx="622.5" cy="487.5" rx="12.8" ry="4.5"/><text x="622.5" y="486.1">Industrial Output</text><text x="622.5" y="488.9">Per Capita</text></g>
<g id="hsid-n"><ellipse class="c" cx="713.3" cy="487.8" rx="13.3" ry="5"/><text x="713.3" y="486.4">Health Services</text><text x="713.3" y="489.2">Impact Delay</text></g>
<g id="ehspc"><ellipse class="a" cx="685.3" cy="495" rx="14.7" ry="4.5"/><text x="685.3" y="493.6">Effective Health Services</text><text x="685.3" y="496.4">Per Capita</text></g>
<g id="pop-n"><ellipse class="c" cx="587.5" cy="502.2" rx="12.5" ry="4.5"/><text x="587.5" y="502.2">Population</text></g>
<g id="cmi-hex"><use href="#hx" x="619" y="505" class="h"/><text x="619" y="503.7">Crowding Multiplier</text><text x="619" y="506.5">from Industrialization</text></g>
<g id="lmhs1-hex"><use href="#hw" x="652" y="505.5" class="h"/><text x="652" y="504.2">Life Expectancy Multiplier</text><text x="652" y="507">from Services 1</text></g>
<g id="hspc-hex"><use href="#hx" x="713.3" y="504.8" class="h"/><text x="713.3" y="503.5">Health Services</text><text x="713.3" y="506.3">Per Capita</text></g>
<g id="fpu-hex"><use href="#hx" x="595.5" y="517.5" class="h"/><text x="595.5" y="516.2">Fr. Population</text><text x="595.5" y="519">Urban</text></g>
<g id="lmhs2-hex"><use href="#hw" x="679" y="516.7" class="h"/><text x="679" y="515.4">Life Expectancy Multiplier</text><text x="679" y="518.2">from Services 2</text></g>
<g id="sopc-n"><ellipse class="c" cx="712.5" cy="522" rx="14.2" ry="4.5"/><text x="712.5" y="520.6">Service Output</text><text x="712.5" y="523.4">Per Capita</text></g>
<g id="lmc"><ellipse class="a" cx="617" cy="531.5" rx="16.3" ry="5.5"/><text x="617" y="530.1">Life Expectancy Multiplier</text><text x="617" y="532.9">from Crowding</text></g>
<g id="lmhs"><ellipse class="a" cx="651" cy="528.8" rx="16.2" ry="5"/><text x="651" y="527.4">Life Expectancy Multiplier</text><text x="651" y="530.2">from Health Services</text></g>
<g id="le"><ellipse class="a" cx="636" cy="545.8" rx="13.3" ry="4.2"/><text x="636" y="545.8">Life Expectancy</text></g>
<g id="lmf-hex"><use href="#hw" x="670.5" y="549.3" class="h"/><text x="670.5" y="547.2">Life Expectancy</text><text x="670.5" y="549.6">Multiplier from</text><text x="670.5" y="552">Food</text></g>
<g id="sfpc-n"><ellipse class="c" cx="712.5" cy="549.5" rx="13.3" ry="4.2"/><text x="712.5" y="548.1">Subsistence Food</text><text x="712.5" y="550.9">Per Capita</text></g>
<g id="lmp-hex"><polygon points="576.7,555.5 582.5,548.7 607.5,548.7 613.3,555.5 607.5,562.3 582.5,562.3" class="h"/><text x="595" y="553.1">Life Expectancy</text><text x="595" y="555.5">Multiplier from Persistent</text><text x="595" y="557.9">Pollution</text></g>
<g id="nle"><ellipse class="a" cx="637" cy="566" rx="13.3" ry="4.7"/><text x="637" y="564.6">Normal Life</text><text x="637" y="567.4">Expectancy</text></g>
<g id="lmfood"><ellipse class="a" cx="678.2" cy="566.2" rx="13.8" ry="4.5"/><text x="678.2" y="564.8">Lifetime Multiplier</text><text x="678.2" y="567.6">from Food</text></g>
<g id="ppi-n"><ellipse class="c" cx="593.3" cy="577.7" rx="15" ry="4.7"/><text x="593.3" y="576.3">Persistent Pollution</text><text x="593.3" y="579.1">Index</text></g>
<g id="fpc-n"><ellipse class="c" cx="710" cy="577.5" rx="11.7" ry="4.2"/><text x="710" y="577.5">Food Per Capita</text></g>
</svg>
